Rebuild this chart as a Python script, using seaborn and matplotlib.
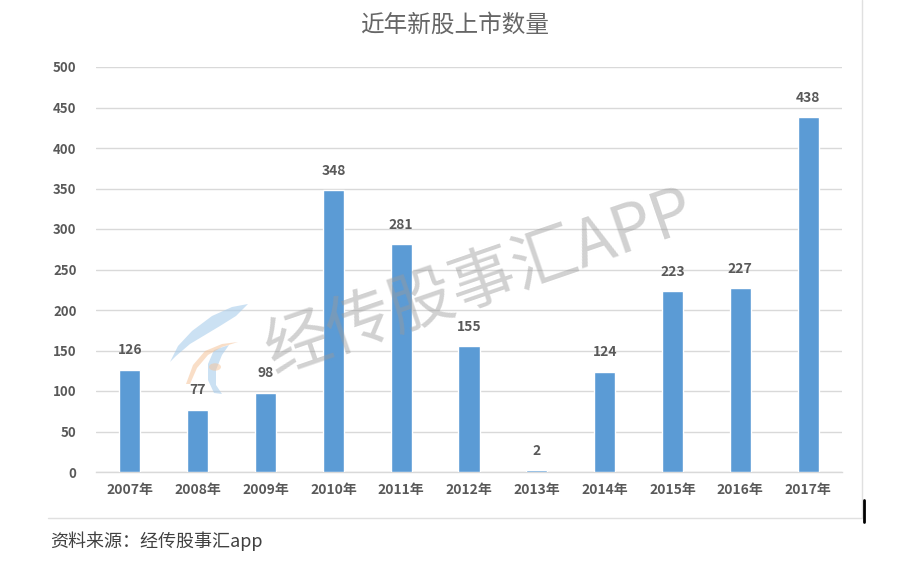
import matplotlib
matplotlib.use("Agg")
import matplotlib.pyplot as plt
import seaborn as sns
import pandas as pd
from matplotlib.patches import Polygon, Circle, Wedge
from matplotlib.lines import Line2D

years = ["2007年", "2008年", "2009年", "2010年", "2011年", "2012年",
         "2013年", "2014年", "2015年", "2016年", "2017年"]
counts = [126, 77, 98, 348, 281, 155, 2, 124, 223, 227, 438]
y_ticks = [0, 50, 100, 150, 200, 250, 300, 350, 400, 450, 500]
title = "近年新股上市数量"
source = "资料来源：经传股事汇app"
watermark = "经传股事汇APP"

sns.set_theme(style="white")
plt.rcParams['font.family'] = ['Noto Sans CJK SC', 'DejaVu Sans']

df = pd.DataFrame({"year": years, "count": counts})

W, H = 914, 566
fig = plt.figure(figsize=(9.14, 5.66), dpi=100)
ax = fig.add_axes([96/W, 1-472/H, (842-96)/W, (472-67)/H])

sns.barplot(data=df, x="year", y="count", color="#5B9BD5", saturation=1,
            width=0.31, ax=ax, zorder=3)

ax.set_ylim(0, 500)
ax.set_yticks(y_ticks)
ax.set_xlim(-0.5, len(years) - 0.5)
ax.grid(axis="y", color="#D9D9D9", linewidth=1, zorder=0)
for s in ["top", "right", "left"]:
    ax.spines[s].set_visible(False)
ax.spines["bottom"].set_color("#D9D9D9")
ax.spines["bottom"].set_linewidth(1)
ax.set_xlabel("")
ax.set_ylabel("")
ax.tick_params(axis="both", length=0, colors="#595959", labelsize=10)
ax.tick_params(axis="y", pad=14)
ax.tick_params(axis="x", pad=8)
for lab in ax.get_yticklabels():
    lab.set_fontsize(9.5)
    lab.set_fontweight("bold")
for lab in ax.get_xticklabels():
    lab.set_fontweight("bold")

for i, v in enumerate(counts):
    ax.annotate(str(v), (i, v), xytext=(0, 9), textcoords="offset points",
                ha="center", va="bottom", fontsize=10, fontweight="bold",
                color="#595959", zorder=5)

fig.text(455/W, 1-25/H, title, ha="center", va="center",
         fontsize=17, color="#666666")

# watermark text
fig.text(480/W, 1-282/H, watermark, ha="center", va="center",
         fontsize=47, color="#9A9A9A", alpha=0.45, rotation=19, zorder=10)


def px(pts):
    return [(x / W, 1 - y / H) for x, y in pts]


# logo (stylized swoosh)
blue = "#A9CDEB"
fig.patches.append(Polygon(px([(248, 304), (232, 307), (212, 316), (192, 331),
                               (178, 346), (170, 362), (176, 356), (190, 344),
                               (205, 335), (220, 326), (236, 316)]),
                           closed=True, transform=fig.transFigure,
                           color=blue, alpha=0.6, lw=0, zorder=9))
fig.patches.append(Polygon(px([(229, 345), (222, 355), (216, 370), (216, 385),
                               (222, 394), (214, 393), (208, 380), (208, 364),
                               (214, 350)]),
                           closed=True, transform=fig.transFigure,
                           color=blue, alpha=0.6, lw=0, zorder=9))
fig.patches.append(Polygon(px([(238, 342), (222, 344), (205, 351), (193, 365),
                               (186, 384), (190, 384), (197, 368), (208, 355),
                               (222, 347)]),
                           closed=True, transform=fig.transFigure,
                           color="#F5C49A", alpha=0.55, lw=0, zorder=9))
fig.patches.append(Circle((215/W, 1-367/H), 6/W, transform=fig.transFigure,
                          color="#F5C49A", alpha=0.5, lw=0, zorder=9))

# frame lines
fig.add_artist(Line2D([48/W, 862/W], [1-518/H, 1-518/H],
                      transform=fig.transFigure, color="#E0E0E0", lw=1))
fig.add_artist(Line2D([862/W, 862/W], [1-518/H, 1.0],
                      transform=fig.transFigure, color="#E0E0E0", lw=1))
fig.add_artist(Line2D([864/W, 864/W], [1-522/H, 1-500/H],
                      transform=fig.transFigure, color="#000000", lw=2))

fig.text(50/W, 1-541/H, source, ha="left", va="center",
         fontsize=13, color="#404040")

fig.savefig("out.png", dpi=100)
